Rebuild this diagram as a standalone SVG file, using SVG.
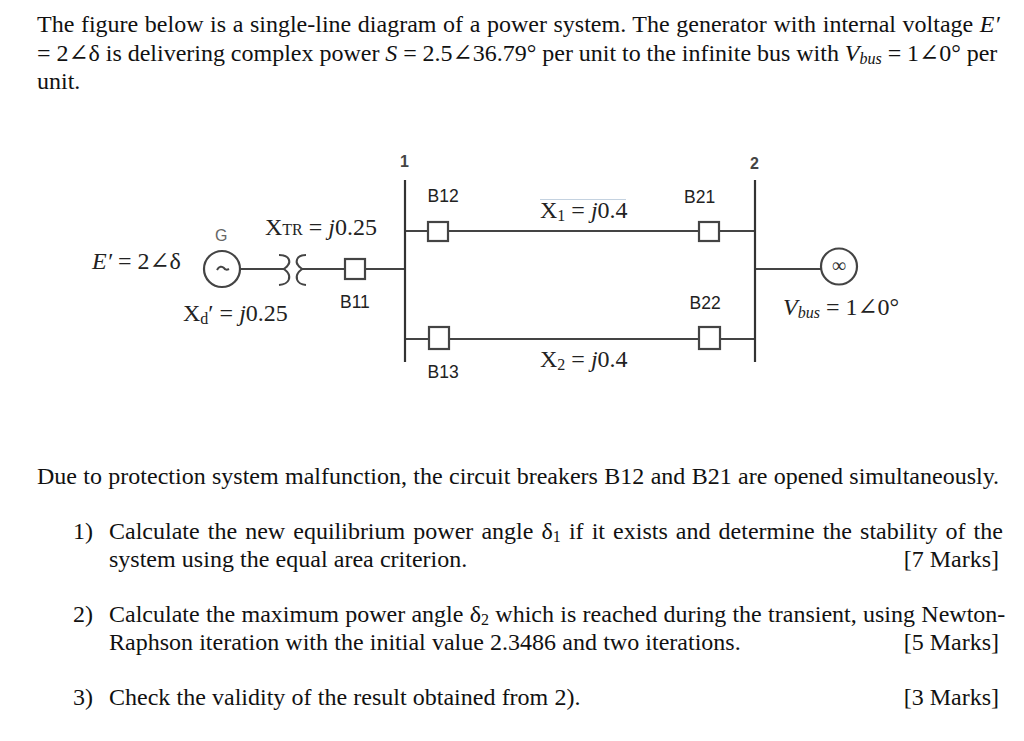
<svg xmlns="http://www.w3.org/2000/svg" width="1024" height="741" viewBox="0 0 1024 741">
<style>
text{font-family:"Liberation Serif","DejaVu Serif",serif;font-size:24px;fill:#111}
.l{font-family:"Liberation Sans",Arial,sans-serif;font-size:17.500px;fill:#222}
.n{font-size:16px;font-weight:bold;fill:#444}
.m{font-size:24px;fill:#222}
.s{font-size:16px}
.i{font-style:italic}
.w{fill:none;stroke:#444;stroke-width:2}
.b{fill:#fff;stroke:#444;stroke-width:2.200}
.bus{fill:none;stroke:#333;stroke-width:2.200}
</style>
<rect width="1024" height="741" fill="#fff"/>
<g id="intro">
<text x="37" y="32" word-spacing="0.600">The figure below is a single-line diagram of a power system. The generator with internal voltage <tspan class="i">E′</tspan></text>
<text x="37" y="61" word-spacing="-0.100">= 2∠δ is delivering complex power <tspan class="i">S</tspan> = 2.5∠36.79° per unit to the infinite bus with <tspan class="i">V<tspan class="s" dy="3">bus</tspan></tspan><tspan dy="-3"> = 1∠0° per</tspan></text>
<text x="37" y="89">unit.</text>
</g>
<g id="connectors">
<path class="w" d="M240 269H284M302 269H345M365 269H405M405 231H428M448 231H699M719 231H755M405 339H429M449 339H699M720 339H755M755 269H821"/>
<path class="w" d="M279 255C291 255 290 263 288 265C287 267 285 268 284 269C285 270 287 271 288 273C290 276 291 284 279 285M306 255C295 255 296 263 298 265C299 267 301 268 302 269C301 270 299 271 298 273C296 276 295 284 306 285"/>
<path fill="none" stroke="#c4d2e0" stroke-width="1" d="M540 199.500H626"/>
</g>
<g id="bus1"><path class="bus" d="M405 180V362"/><text class="l n" x="400" y="167">1</text></g>
<g id="bus2"><path class="bus" d="M755 180V362"/><text class="l n" x="750" y="169">2</text></g>
<g id="generator"><circle class="b" cx="222" cy="269" r="18"/><path class="w" d="M217 270C219 266 222 266 224 268C225 270 227 270 229 269"/><text class="l" x="215" y="241" style="font-size:16px;fill:#666">G</text></g>
<g id="infinite-bus"><circle class="b" cx="839" cy="266.500" r="18"/><text x="839" y="272" text-anchor="middle" style="font-size:20px;fill:#333">∞</text></g>
<g id="B11"><rect class="b" x="345" y="259" width="20" height="20"/><text class="l" x="340" y="308">B11</text></g>
<g id="B12"><rect class="b" x="428" y="222" width="20" height="19"/><text class="l" x="427.500" y="202">B12</text></g>
<g id="B13"><rect class="b" x="429" y="327" width="20" height="22"/><text class="l" x="427.500" y="378">B13</text></g>
<g id="B21"><rect class="b" x="699" y="222" width="20" height="19"/><text class="l" x="684" y="203">B21</text></g>
<g id="B22"><rect class="b" x="699" y="327" width="21" height="22"/><text class="l" x="689.500" y="309">B22</text></g>
<g id="labels">
<text class="m" x="92" y="269"><tspan class="i">E′</tspan> = 2∠δ</text>
<text class="m" x="265" y="235">X<tspan class="s">TR</tspan> = <tspan class="i">j</tspan>0.25</text>
<text class="m" x="183" y="321">X<tspan class="s" dy="3">d</tspan><tspan dy="-3">′ = </tspan><tspan class="i">j</tspan>0.25</text>
<text class="m" x="540" y="218">X<tspan class="s" dy="3">1</tspan><tspan dy="-3"> = </tspan><tspan class="i">j</tspan>0.4</text>
<text class="m" x="540" y="367">X<tspan class="s" dy="3">2</tspan><tspan dy="-3"> = </tspan><tspan class="i">j</tspan>0.4</text>
<text class="m" x="783" y="315"><tspan class="i">V<tspan class="s" dy="3">bus</tspan></tspan><tspan dy="-3"> = 1∠0°</tspan></text>
</g>
<g id="questions">
<text x="37" y="484" word-spacing="0.350">Due to protection system malfunction, the circuit breakers B12 and B21 are opened simultaneously.</text>
<text x="73" y="539">1)</text>
<text x="109" y="539" word-spacing="2.100">Calculate the new equilibrium power angle δ<tspan class="s" dy="3">1</tspan><tspan dy="-3"> if it exists and determine the stability of the</tspan></text>
<text x="109" y="567" word-spacing="0.200">system using the equal area criterion.</text>
<text x="999" y="567" text-anchor="end">[7 Marks]</text>
<text x="73" y="622">2)</text>
<text x="109" y="622" word-spacing="0.300">Calculate the maximum power angle δ<tspan class="s" dy="3">2</tspan><tspan dy="-3"> which is reached during the transient, using Newton-</tspan></text>
<text x="109" y="650" word-spacing="0.200">Raphson iteration with the initial value 2.3486 and two iterations.</text>
<text x="999" y="650" text-anchor="end">[5 Marks]</text>
<text x="73" y="705">3)</text>
<text x="109" y="705" word-spacing="0.200">Check the validity of the result obtained from 2).</text>
<text x="999" y="705" text-anchor="end">[3 Marks]</text>
</g>
</svg>
